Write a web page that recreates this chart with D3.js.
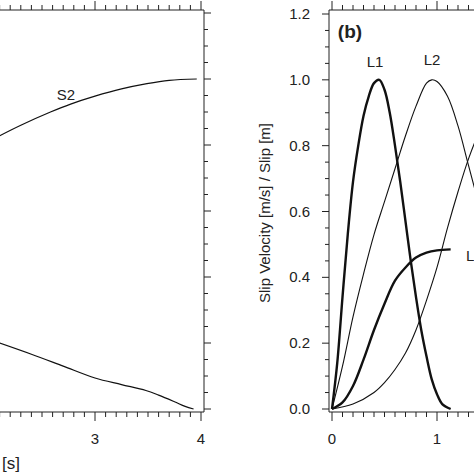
<!DOCTYPE html>
<html><head><meta charset="utf-8">
<script src="https://cdn.jsdelivr.net/npm/d3@7"></script>
<style>body{margin:0;background:#fff}text{font-family:"Liberation Sans",Arial,sans-serif;fill:#222}</style>
</head><body>
<svg id="c" width="474" height="474"></svg>
<script>
// panel (a) curves, time [s] / value
const s2T = [2.1, 2.3, 2.58, 2.77, 3.0, 3.25, 3.49, 3.7, 3.96];
const s2V = [4.14, 4.3, 4.5, 4.62, 4.74, 4.85, 4.93, 4.98, 5.0];
const lowT = [2.1, 2.4, 2.7, 3.0, 3.25, 3.48, 3.6, 3.75, 3.85, 3.93];
const lowV = [1.0, 0.83, 0.65, 0.47, 0.37, 0.28, 0.21, 0.11, 0.04, 0.0];
// panel (b)
const l1T = [0, 0.05, 0.1, 0.15, 0.2, 0.25, 0.3, 0.35, 0.4, 0.45, 0.5, 0.55, 0.6, 0.65, 0.7, 0.75, 0.8, 0.85, 0.9, 0.95, 1.0, 1.05, 1.13];
const l1V = [0, 0.14, 0.34, 0.53, 0.69, 0.8, 0.89, 0.95, 0.99, 1.0, 0.97, 0.9, 0.8, 0.69, 0.57, 0.45, 0.34, 0.24, 0.16, 0.09, 0.045, 0.015, 0];
const l2T = [0, 0.1, 0.2, 0.3, 0.4, 0.5, 0.6, 0.7, 0.8, 0.9, 0.95, 1.0, 1.1, 1.2, 1.3, 1.4, 1.5];
const l2V = [0, 0.13, 0.28, 0.41, 0.53, 0.63, 0.73, 0.83, 0.92, 0.99, 1.0, 0.995, 0.95, 0.86, 0.74, 0.62, 0.5];
const slip1T = [0, 0.1, 0.2, 0.3, 0.4, 0.5, 0.6, 0.7, 0.8, 0.9, 1.0, 1.13];
const slip1V = [0, 0.02, 0.07, 0.15, 0.24, 0.32, 0.39, 0.43, 0.46, 0.475, 0.482, 0.485];
const slip2T = [0, 0.2, 0.4, 0.5, 0.6, 0.7, 0.8, 0.9, 1.0, 1.1, 1.2, 1.3, 1.4, 1.5];
const slip2V = [0, 0.015, 0.05, 0.08, 0.12, 0.17, 0.24, 0.33, 0.43, 0.55, 0.66, 0.76, 0.84, 0.9];

const svg = d3.select("#c");
const line = (x, y) => d3.line().x(d => x(d[0])).y(d => y(d[1])).curve(d3.curveCatmullRom);
const zip = (a, b) => a.map((v, i) => [v, b[i]]);

// ---- panel (a), only its right part is visible
const xa = d3.scaleLinear().domain([0, 4]).range([-223, 201]);
const ya = d3.scaleLinear().domain([0, 6]).range([409, 13]);
const ga = svg.append("g");
ga.append("line").attr("x1", 0).attr("x2", 204).attr("y1", 412).attr("y2", 412).attr("stroke", "#222");
ga.append("line").attr("x1", 0).attr("x2", 204).attr("y1", 10).attr("y2", 10).attr("stroke", "#222");
ga.append("line").attr("x1", 204).attr("x2", 204).attr("y1", 10).attr("y2", 412).attr("stroke", "#222");
d3.range(2.1, 4.001, 0.1).forEach(t => {
  const big = Math.abs(t - Math.round(t)) < 1e-6;
  const x = xa(t);
  ga.append("line").attr("x1", x).attr("x2", x).attr("y1", 412).attr("y2", 412 + (big ? 9 : 5)).attr("stroke", "#222");
  ga.append("line").attr("x1", x).attr("x2", x).attr("y1", 10).attr("y2", 10 - (big ? 9 : 5)).attr("stroke", "#222");
  if (big) ga.append("text").attr("x", x).attr("y", 444).attr("text-anchor", "middle").attr("font-size", 15).text(Math.round(t));
});
d3.range(0, 6.01, 0.25).forEach(v => {
  const big = Math.abs(v - Math.round(v)) < 1e-6;
  ga.append("line").attr("x1", 204).attr("x2", 204 + (big ? 7 : 4)).attr("y1", ya(v)).attr("y2", ya(v)).attr("stroke", "#222");
});
ga.append("text").attr("x", 20).attr("y", 469).attr("text-anchor", "end").attr("font-size", 17).text("Time [s]");
ga.append("path").datum(zip(s2T, s2V)).attr("d", line(xa, ya)).attr("fill", "none").attr("stroke", "#111").attr("stroke-width", 1.2);
ga.append("path").datum(zip(lowT, lowV)).attr("d", line(xa, ya)).attr("fill", "none").attr("stroke", "#111").attr("stroke-width", 1.2);
ga.append("text").attr("x", 66).attr("y", 100).attr("text-anchor", "middle").attr("font-size", 15).text("S2");

// ---- panel (b)
const xb = d3.scaleLinear().domain([0, 1]).range([332, 437]);
const yb = d3.scaleLinear().domain([0, 1.2]).range([409, 14]);
const gb = svg.append("g");
gb.append("line").attr("x1", 329).attr("x2", 474).attr("y1", 412).attr("y2", 412).attr("stroke", "#222");
gb.append("line").attr("x1", 329).attr("x2", 474).attr("y1", 10).attr("y2", 10).attr("stroke", "#222");
gb.append("line").attr("x1", 329).attr("x2", 329).attr("y1", 10).attr("y2", 412).attr("stroke", "#222");
d3.range(0, 1.41, 0.1).forEach(t => {
  const big = Math.abs(t - Math.round(t)) < 1e-6;
  const x = xb(t);
  gb.append("line").attr("x1", x).attr("x2", x).attr("y1", 412).attr("y2", 412 + (big ? 9 : 5)).attr("stroke", "#222");
  gb.append("line").attr("x1", x).attr("x2", x).attr("y1", 10).attr("y2", 10 - (big ? 9 : 5)).attr("stroke", "#222");
  if (big) gb.append("text").attr("x", x).attr("y", 444).attr("text-anchor", "middle").attr("font-size", 15).text(Math.round(t));
});
d3.range(0, 1.201, 0.05).forEach(v => {
  const big = Math.abs(v * 5 - Math.round(v * 5)) < 1e-6;
  gb.append("line").attr("x1", 329).attr("x2", 329 - (big ? 7 : 4)).attr("y1", yb(v)).attr("y2", yb(v)).attr("stroke", "#222");
  if (big) gb.append("text").attr("x", 310).attr("y", yb(v) + 5).attr("text-anchor", "end").attr("font-size", 15).text(d3.format(".1f")(v));
});
gb.append("text").attr("transform", "translate(270,213) rotate(-90)").attr("text-anchor", "middle").attr("font-size", 15).text("Slip Velocity [m/s] / Slip [m]");
gb.append("clipPath").attr("id", "cb").append("rect").attr("x", 329).attr("y", 10).attr("width", 145).attr("height", 402);
const cg = gb.append("g").attr("clip-path", "url(#cb)");
[[l1T, l1V, 2.4], [l2T, l2V, 1.1], [slip1T, slip1V, 2.4], [slip2T, slip2V, 1.1]].forEach(([t, v, w]) => {
  cg.append("path").datum(zip(t, v)).attr("d", line(xb, yb)).attr("fill", "none").attr("stroke", "#111").attr("stroke-width", w);
});
gb.append("text").attr("x", 350).attr("y", 38).attr("text-anchor", "middle").attr("font-size", 19).attr("font-weight", "bold").text("(b)");
gb.append("text").attr("x", 375).attr("y", 67).attr("text-anchor", "middle").attr("font-size", 15).text("L1");
gb.append("text").attr("x", 432).attr("y", 65).attr("text-anchor", "middle").attr("font-size", 15).text("L2");
gb.append("text").attr("x", 466).attr("y", 261).attr("text-anchor", "start").attr("font-size", 15).text("L3");
</script>
</body></html>
